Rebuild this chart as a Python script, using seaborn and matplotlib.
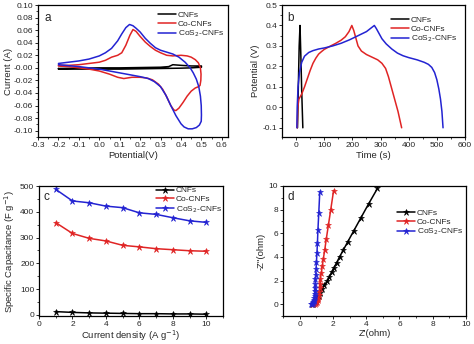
import numpy as np
import pandas as pd
import matplotlib
matplotlib.use("Agg")
import matplotlib.pyplot as plt
from matplotlib.ticker import MultipleLocator, AutoMinorLocator, FormatStrFormatter
import seaborn as sns

sns.set_style("ticks")
plt.rcParams['font.family'] = ['Liberation Sans', 'DejaVu Sans']
plt.rcParams['axes.unicode_minus'] = False

names = ["CNFs", "Co-CNFs", "CoS$_2$-CNFs"]
colors = ["black", "#e02424", "#2323d2"]

# ---- (a) CV curves ----
cv_cnf_x = [-0.2, -0.1, 0.0, 0.1, 0.2, 0.3, 0.34, 0.36, 0.4, 0.45, 0.5, 0.5, 0.45, 0.4, 0.3, 0.2, 0.1, 0.0, -0.1, -0.2, -0.2]
cv_cnf_y = [-0.001, -0.0005, 0.0, 0.0, 0.0005, 0.001, 0.002, 0.005, 0.004, 0.003, 0.003, 0.001, 0.0, -0.0005, -0.001, -0.0015, -0.002, -0.002, -0.002, -0.002, -0.001]

cv_co_x = [-0.2, -0.15, -0.1, -0.05, 0.0, 0.03, 0.06, 0.09, 0.11, 0.13, 0.15, 0.165, 0.18, 0.2, 0.225,
           0.25, 0.275, 0.3, 0.33, 0.36, 0.4, 0.43, 0.45, 0.47, 0.485, 0.495, 0.498, 0.497, 0.493, 0.485,
           0.47, 0.45, 0.43, 0.41, 0.39, 0.375, 0.365, 0.35, 0.33, 0.31, 0.29, 0.26, 0.23, 0.2, 0.16,
           0.12, 0.09, 0.05, 0.0, -0.05, -0.1, -0.15, -0.2]
cv_co_y = [0.004, 0.004, 0.005, 0.007, 0.009, 0.012, 0.017, 0.02, 0.024, 0.036, 0.052, 0.061, 0.058, 0.05, 0.041,
           0.034, 0.028, 0.024, 0.02, 0.019, 0.02, 0.019, 0.017, 0.013, 0.008, 0.0, -0.01, -0.02, -0.028, -0.03,
           -0.032, -0.037, -0.045, -0.055, -0.064, -0.068, -0.067, -0.06, -0.046, -0.034, -0.026, -0.019, -0.016, -0.015, -0.015,
           -0.017, -0.015, -0.01, -0.005, -0.002, 0.0, 0.002, 0.003]

cv_cos_x = [-0.2, -0.15, -0.1, -0.05, 0.0, 0.03, 0.06, 0.09, 0.11, 0.13, 0.148, 0.165, 0.18, 0.2, 0.225,
            0.25, 0.275, 0.3, 0.33, 0.36, 0.39, 0.42, 0.445, 0.46, 0.475, 0.487, 0.495, 0.499, 0.5, 0.499,
            0.49, 0.475, 0.455, 0.435, 0.415, 0.4, 0.375, 0.35, 0.325, 0.3, 0.27, 0.24, 0.2, 0.15,
            0.1, 0.05, 0.0, -0.1, -0.2]
cv_cos_y = [0.007, 0.009, 0.011, 0.014, 0.019, 0.024, 0.031, 0.043, 0.054, 0.064, 0.069, 0.067, 0.063, 0.057, 0.047,
            0.039, 0.032, 0.028, 0.025, 0.022, 0.017, 0.009, 0.0, -0.008, -0.018, -0.03, -0.045, -0.06, -0.075, -0.085,
            -0.091, -0.095, -0.097, -0.097, -0.094, -0.089, -0.076, -0.06, -0.043, -0.03, -0.022, -0.017, -0.014, -0.011,
            -0.008, -0.005, -0.002, 0.002, 0.005]

# ---- (b) GCD curves ----
gcd_cnf_t = [5, 8, 11, 14, 17, 20, 24]
gcd_cnf_v = [-0.1, 0.1, 0.3, 0.4, 0.25, 0.08, -0.1]

gcd_co_t = [4, 6, 10, 20, 30, 40, 50, 60, 70, 80, 90, 100, 120, 140, 160, 175, 188, 198, 205, 212, 220,
            232, 250, 270, 290, 305, 318, 328, 338, 350, 362, 375]
gcd_co_v = [-0.1, 0.0, 0.04, 0.065, 0.1, 0.14, 0.18, 0.215, 0.24, 0.26, 0.272, 0.283, 0.298, 0.312, 0.328, 0.345, 0.37, 0.4, 0.375, 0.34, 0.3,
            0.275, 0.258, 0.245, 0.232, 0.215, 0.19, 0.15, 0.1, 0.04, -0.02, -0.1]

gcd_cos_t = [3, 4, 7, 12, 20, 30, 45, 60, 80, 100, 130, 160, 190, 220, 250, 278, 285, 295, 305, 320, 340,
             360, 380, 400, 430, 455, 470, 482, 492, 500, 507, 513, 518, 522]
gcd_cos_v = [-0.1, 0.0, 0.1, 0.17, 0.22, 0.25, 0.268, 0.277, 0.285, 0.29, 0.3, 0.313, 0.33, 0.35, 0.37, 0.4, 0.385, 0.36, 0.335, 0.31, 0.285,
             0.265, 0.252, 0.243, 0.232, 0.22, 0.21, 0.195, 0.17, 0.135, 0.09, 0.04, -0.02, -0.1]

# ---- (c) rate capability ----
density = [1, 2, 3, 4, 5, 6, 7, 8, 9, 10]
cap_cnf = [13, 10, 8, 7, 6, 5, 5, 4, 4, 3]
cap_co = [358, 316, 297, 287, 270, 264, 257, 253, 249, 247]
cap_cos = [487, 442, 435, 422, 416, 396, 390, 377, 365, 359]

# ---- (d) Nyquist plots ----
eis_cnf_x = [0.75, 0.82, 0.9, 0.98, 1.06, 1.14, 1.22, 1.32, 1.48, 1.66, 1.78, 1.92, 2.07, 2.22, 2.4, 2.63, 2.9, 3.25, 3.68, 4.15, 4.68]
eis_cnf_y = [0.0, 0.05, 0.15, 0.3, 0.5, 0.7, 0.95, 1.25, 1.6, 1.95, 2.3, 2.7, 3.1, 3.5, 4.0, 4.6, 5.3, 6.2, 7.3, 8.5, 9.8]

eis_co_x = [0.82, 0.92, 1.0, 1.06, 1.1, 1.13, 1.16, 1.18, 1.2, 1.22, 1.24, 1.3, 1.36, 1.42, 1.51, 1.6, 1.73, 1.87, 2.04]
eis_co_y = [0.0, 0.04, 0.1, 0.2, 0.35, 0.55, 0.8, 1.05, 1.35, 1.7, 2.1, 2.6, 3.2, 3.8, 4.6, 5.5, 6.7, 8.0, 9.6]

eis_cos_x = [0.67, 0.72, 0.78, 0.83, 0.86, 0.88, 0.89, 0.9, 0.91, 0.92, 0.93, 0.94, 0.95, 0.97, 0.99, 1.01, 1.04, 1.07, 1.1, 1.15, 1.21]
eis_cos_y = [0.0, 0.03, 0.08, 0.15, 0.25, 0.38, 0.52, 0.7, 0.9, 1.1, 1.4, 1.7, 2.1, 2.5, 3.0, 3.6, 4.3, 5.2, 6.3, 7.7, 9.5]

W, H = 474, 344
fig = plt.figure(figsize=(W / 100, H / 100), dpi=100)

def box(l, r, t, b):
    return [l / W, (H - b) / H, (r - l) / W, (b - t) / H]

axa = fig.add_axes(box(38, 228, 5, 137))
axb = fig.add_axes(box(282, 465, 5, 137))
axc = fig.add_axes(box(39, 223, 186, 316))
axd = fig.add_axes(box(283, 466, 186, 316))

TICK = 6
LAB = 6.8
LEG = 6
LW = 1.1

def style(ax):
    for s in ax.spines.values():
        s.set_visible(True)
        s.set_linewidth(0.9)
        s.set_color("black")
    ax.tick_params(which="major", direction="out", length=2.2, width=0.7, labelsize=TICK, pad=1.2)
    ax.tick_params(which="minor", direction="out", length=1.2, width=0.6)
    ax.xaxis.set_minor_locator(AutoMinorLocator(2))
    ax.yaxis.set_minor_locator(AutoMinorLocator(2))

# (a)
for x, y, n, c in zip([cv_cnf_x, cv_co_x, cv_cos_x], [cv_cnf_y, cv_co_y, cv_cos_y], names, colors):
    sns.lineplot(x=x, y=y, sort=False, estimator=None, color=c, lw=LW, label=n, ax=axa)
axa.set_xlim(-0.3, 0.63)
axa.set_ylim(-0.11, 0.10)
axa.xaxis.set_major_locator(MultipleLocator(0.1))
axa.yaxis.set_major_locator(MultipleLocator(0.02))
axa.yaxis.set_major_formatter(FormatStrFormatter("%.2f"))
axa.xaxis.set_major_formatter(FormatStrFormatter("%.1f"))
axa.set_xlabel("Potential(V)", fontsize=LAB, labelpad=2)
axa.set_ylabel("Current (A)", fontsize=LAB, labelpad=1)
axa.text(0.032, 0.945, "a", transform=axa.transAxes, fontsize=8.5, va="top")

# (b)
for x, y, n, c in zip([gcd_cnf_t, gcd_co_t, gcd_cos_t], [gcd_cnf_v, gcd_co_v, gcd_cos_v], names, colors):
    sns.lineplot(x=x, y=y, sort=False, estimator=None, color=c, lw=LW, label=n, ax=axb)
axb.set_xlim(-50, 600)
axb.set_ylim(-0.145, 0.5)
axb.xaxis.set_major_locator(MultipleLocator(100))
axb.yaxis.set_major_locator(MultipleLocator(0.1))
axb.yaxis.set_major_formatter(FormatStrFormatter("%.1f"))
axb.set_xlabel("Time (s)", fontsize=LAB, labelpad=2)
axb.set_ylabel("Potential (V)", fontsize=LAB, labelpad=2)
axb.text(0.027, 0.95, "b", transform=axb.transAxes, fontsize=8.5, va="top")

# (c)
for y, n, c in zip([cap_cnf, cap_co, cap_cos], names, colors):
    sns.lineplot(x=density, y=y, color=c, lw=LW, marker="*", markersize=4.5, markeredgewidth=0.4,
                 markeredgecolor=c, label=n, ax=axc)
axc.set_xlim(0, 11)
axc.set_ylim(-4, 500)
axc.xaxis.set_major_locator(MultipleLocator(2))
axc.yaxis.set_major_locator(MultipleLocator(100))
axc.set_xlabel("Current density (A g$^{-1}$)", fontsize=LAB, labelpad=0.5)
axc.set_ylabel("Specific Capacitance (F g$^{-1}$)", fontsize=LAB, labelpad=2)
axc.text(0.022, 0.965, "c", transform=axc.transAxes, fontsize=8.5, va="top")

# (d)
for x, y, n, c in zip([eis_cnf_x, eis_co_x, eis_cos_x], [eis_cnf_y, eis_co_y, eis_cos_y], names, colors):
    sns.lineplot(x=x, y=y, sort=False, estimator=None, color=c, lw=LW, marker="*", markersize=4.5,
                 markeredgewidth=0.4, markeredgecolor=c, label=n, ax=axd)
axd.set_xlim(-1, 10)
axd.set_ylim(-1, 10)
axd.xaxis.set_major_locator(MultipleLocator(2))
axd.yaxis.set_major_locator(MultipleLocator(2))
axd.set_xlabel("Z'(ohm)", fontsize=LAB, labelpad=1)
axd.set_ylabel("-Z''(ohm)", fontsize=LAB, labelpad=2)
axd.text(0.022, 0.965, "d", transform=axd.transAxes, fontsize=8.5, va="top")

for ax in (axa, axb, axc, axd):
    style(ax)

leg_kw = dict(fontsize=LEG, frameon=False, handlelength=2.1, handletextpad=0.3, labelspacing=0.12,
              borderaxespad=0, borderpad=0, loc="upper left")
axa.legend(bbox_to_anchor=(0.632, 0.955), **leg_kw)
axb.legend(bbox_to_anchor=(0.596, 0.917), **leg_kw)
axc.legend(bbox_to_anchor=(0.636, 0.995), **leg_kw)
axd.legend(bbox_to_anchor=(0.623, 0.823), **leg_kw)

fig.savefig("out.png", dpi=100)
